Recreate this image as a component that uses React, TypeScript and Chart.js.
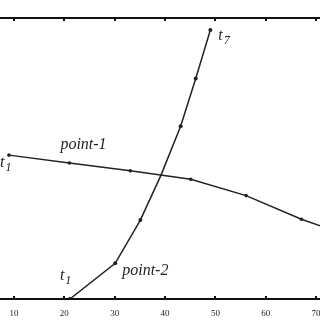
import React, { useEffect, useRef } from "react";
import { Chart, registerables } from "chart.js";

Chart.register(...registerables);

const X_MIN = 7.22;
const X_MAX = 70.78;
const X_STEP = 10;
const Y_MIN = 0;
const Y_MAX = 100;

const POINT1_X = [9.0, 21.0, 33.1, 45.1, 56.1, 67.1, 78.0];
const POINT1_Y = [51.2, 48.4, 45.6, 42.6, 36.8, 28.4, 21.5];
const POINT2_X = [21.1, 30.1, 35.1, 39.2, 43.1, 46.1, 49.0];
const POINT2_Y = [0, 12.7, 28.1, 44.1, 61.5, 78.5, 95.7];
const POINT2_MARKERS = [2, 2, 2, 0, 2, 2, 2];

const SERIF = '"Liberation Serif", "DejaVu Serif", serif';

type Label = { ds: number; idx: number; main: string; sub: string; dx: number; dy: number };
const LABELS: Label[] = [
  { ds: 0, idx: 0, main: "t", sub: "1", dx: -9, dy: 12 },
  { ds: 0, idx: 1, main: "point-1", sub: "", dx: -9, dy: -14 },
  { ds: 1, idx: 6, main: "t", sub: "7", dx: 8, dy: 10 },
  { ds: 1, idx: 1, main: "point-2", sub: "", dx: 7, dy: 12 },
  { ds: 1, idx: 0, main: "t", sub: "1", dx: -10, dy: -19 },
];

const framePlugin = {
  id: "frame",
  afterDraw(chart: any) {
    const { ctx, chartArea, scales } = chart;
    const x = scales.x;
    ctx.save();
    ctx.fillStyle = "#111";
    ctx.fillRect(0, chartArea.top - 1, chart.width, 2);
    ctx.fillRect(0, chartArea.bottom - 1, chart.width, 2);
    x.ticks.forEach((t: any) => {
      const px = Math.round(x.getPixelForValue(t.value));
      ctx.fillRect(px - 1, chartArea.top, 2, 3);
      ctx.fillRect(px - 1, chartArea.bottom - 3, 2, 3);
    });
    ctx.restore();
  },
  afterDatasetsDraw(chart: any) {
    const { ctx } = chart;
    ctx.save();
    ctx.fillStyle = "#222";
    ctx.textBaseline = "alphabetic";
    ctx.textAlign = "left";
    LABELS.forEach((l) => {
      const el = chart.getDatasetMeta(l.ds).data[l.idx];
      const bx = el.x + l.dx;
      const by = el.y + l.dy;
      ctx.font = `italic 16px ${SERIF}`;
      ctx.fillText(l.main, bx, by);
      if (l.sub) {
        const w = ctx.measureText(l.main).width;
        ctx.font = `italic 12px ${SERIF}`;
        ctx.fillText(l.sub, bx + w + 1, by + 4);
      }
    });
    ctx.restore();
  },
};

export default function App() {
  const ref = useRef<HTMLCanvasElement>(null);
  useEffect(() => {
    if (!ref.current) return;
    const chart = new Chart(ref.current, {
      type: "line",
      data: {
        datasets: [
          {
            label: "point-1",
            data: POINT1_X.map((x, i) => ({ x, y: POINT1_Y[i] })),
            borderColor: "#222",
            backgroundColor: "#222",
            borderWidth: 1.5,
            pointRadius: 1.8,
            pointBorderWidth: 0,
          },
          {
            label: "point-2",
            data: POINT2_X.map((x, i) => ({ x, y: POINT2_Y[i] })),
            borderColor: "#222",
            backgroundColor: "#222",
            borderWidth: 1.5,
            pointRadius: POINT2_MARKERS,
            pointBorderWidth: 0,
          },
        ],
      },
      options: {
        animation: false,
        responsive: false,
        layout: { autoPadding: false, padding: { top: 18, bottom: 0, left: 0, right: 0 } },
        plugins: { legend: { display: false }, tooltip: { enabled: false } },
        scales: {
          x: {
            type: "linear",
            min: X_MIN,
            max: X_MAX,
            grid: { display: false, drawTicks: false },
            border: { display: false },
            afterFit: (scale: any) => {
              scale.paddingLeft = 0;
              scale.paddingRight = 0;
              scale.height = 21;
            },
            ticks: {
              stepSize: X_STEP,
              includeBounds: false,
              padding: 9,
              color: "#222",
              font: { family: SERIF, size: 9 },
              maxRotation: 0,
              autoSkip: false,
            },
          },
          y: {
            display: false,
            min: Y_MIN,
            max: Y_MAX,
          },
        },
      },
      plugins: [framePlugin],
    });
    return () => chart.destroy();
  }, []);
  return (
    <div style={{ position: "fixed", left: 0, top: 0, width: 320, height: 320, background: "#fff" }}>
      <canvas ref={ref} width={320} height={320} />
    </div>
  );
}
